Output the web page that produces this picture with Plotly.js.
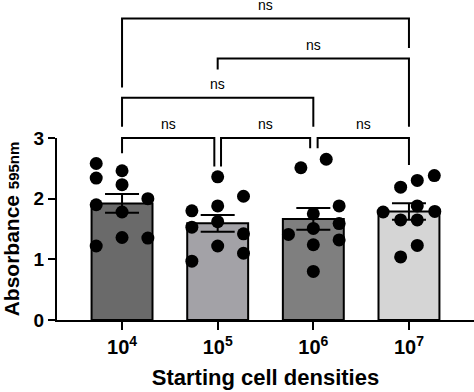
<!DOCTYPE html>
<html><head><meta charset="utf-8">
<script src="https://cdn.plot.ly/plotly-3.0.1.min.js"></script>
<style>html,body{margin:0;padding:0;background:#fff}#chart{width:474px;height:392px}</style>
</head><body><div id="chart"></div>
<script>
// ---- data ----
const categories = ['10<sup>4</sup>', '10<sup>5</sup>', '10<sup>6</sup>', '10<sup>7</sup>'];
const density1e4 = [2.58, 2.34, 2.46, 2.23, 2.00, 1.90, 1.78, 1.36, 1.35, 1.22];
const density1e5 = [2.36, 2.04, 1.80, 1.88, 1.62, 1.53, 1.42, 1.22, 1.10, 0.97];
const density1e6 = [2.51, 2.65, 1.88, 1.75, 1.59, 1.41, 1.51, 1.32, 1.24, 0.80];
const density1e7 = [2.38, 2.30, 2.19, 1.88, 1.78, 1.79, 1.65, 1.65, 1.23, 1.04];
const comparisonPairs = [[0, 1], [1, 2], [2, 3], [0, 2], [1, 3], [0, 3]];
const comparisonLabels = ['ns', 'ns', 'ns', 'ns', 'ns', 'ns'];

// ---- styling / placement (not data) ----
const groups = [density1e4, density1e5, density1e6, density1e7];
const barColors = ['#6a6a6a', '#a3a2a7', '#7f7f7f', '#d5d5d5'];
const jitter = [
  [-0.27, -0.27, 0, 0, 0.27, -0.27, 0, 0, 0.27, -0.27],
  [0, 0.27, -0.27, 0, 0, -0.27, 0.27, 0, 0.27, -0.27],
  [-0.13, 0.135, 0.27, 0, 0.27, -0.26, 0, 0.27, 0, 0],
  [0.265, 0.087, -0.087, 0.087, -0.27, 0.27, -0.087, 0.087, 0.087, -0.087]
];
// bracket geometry: [level, leftLegEnd, rightLegEnd, leftInset, rightInset] in y-data units
const bracketGeom = [
  [3.00, 2.75, 2.53, 0, 0.035],
  [3.00, 2.53, 2.83, 0.035, 0.033],
  [3.00, 2.83, 2.556, 0.045, 0],
  [3.663, 3.186, 3.186, 0, 0],
  [4.31, 4.13, 3.186, 0, 0],
  [4.968, 3.834, 4.485, 0, 0]
];

const YMAX = 3;
const mean = a => a.reduce((s, v) => s + v, 0) / a.length;
const sem = a => {
  const m = mean(a);
  const v = a.reduce((s, x) => s + (x - m) * (x - m), 0) / (a.length - 1);
  return Math.sqrt(v) / Math.sqrt(a.length);
};
const idx = categories.map((c, i) => i);

const traces = [{
  type: 'bar',
  x: idx,
  y: groups.map(mean),
  width: 0.637,
  marker: {color: barColors, line: {color: '#000', width: 2}},
  error_y: {type: 'data', array: groups.map(sem), visible: true, color: '#000', thickness: 2, width: 17},
  hoverinfo: 'skip'
}];
groups.forEach((g, gi) => {
  traces.push({
    type: 'scatter', mode: 'markers',
    x: g.map((v, k) => gi + jitter[gi][k]),
    y: g,
    marker: {color: '#000', size: 13},
    cliponaxis: false,
    hoverinfo: 'skip'
  });
});

const shapes = [];
const annotations = [];
const line = {color: '#000', width: 2};
comparisonPairs.forEach((p, i) => {
  const [lvl, lEnd, rEnd, lIn, rIn] = bracketGeom[i];
  const x0 = p[0] + lIn, x1 = p[1] - rIn;
  shapes.push({type: 'path', xref: 'x', yref: 'paper',
    path: `M ${x0} ${lEnd / YMAX} L ${x0} ${lvl / YMAX} L ${x1} ${lvl / YMAX} L ${x1} ${rEnd / YMAX}`,
    line: line});
  annotations.push({xref: 'x', yref: 'paper', x: (x0 + x1) / 2, y: lvl / YMAX,
    yanchor: 'bottom', yshift: 4, showarrow: false, text: comparisonLabels[i],
    font: {family: 'Liberation Sans, Arial, sans-serif', size: 14, color: '#000'}});
});

const boldFont = (s) => ({family: 'Liberation Sans, Arial, sans-serif', size: s, color: '#000', weight: 'bold'});

const layout = {
  width: 474, height: 392,
  margin: {l: 57, r: 0, t: 138, b: 72, pad: 0},
  paper_bgcolor: '#fff', plot_bgcolor: '#fff',
  showlegend: false,
  xaxis: {
    range: [-0.68, 3.68], tickvals: idx, ticktext: categories,
    showgrid: false, zeroline: false, showline: true, linecolor: '#000', linewidth: 2,
    ticks: 'outside', ticklen: 8, tickwidth: 2, tickcolor: '#000',
    tickfont: boldFont(20),
    title: {text: 'Starting cell densities', font: boldFont(22), standoff: 13}
  },
  yaxis: {
    range: [0, YMAX], tickvals: [0, 1, 2, 3],
    showgrid: false, zeroline: false, showline: true, linecolor: '#000', linewidth: 2,
    ticks: 'outside', ticklen: 7, tickwidth: 2, tickcolor: '#000',
    tickfont: boldFont(19),
    title: {text: 'Absorbance <span style="font-size:15px">595nm</span>', font: boldFont(21), standoff: 8}
  },
  shapes: shapes,
  annotations: annotations
};

Plotly.newPlot('chart', traces, layout, {displayModeBar: false, staticPlot: true});
</script>
</body></html>
